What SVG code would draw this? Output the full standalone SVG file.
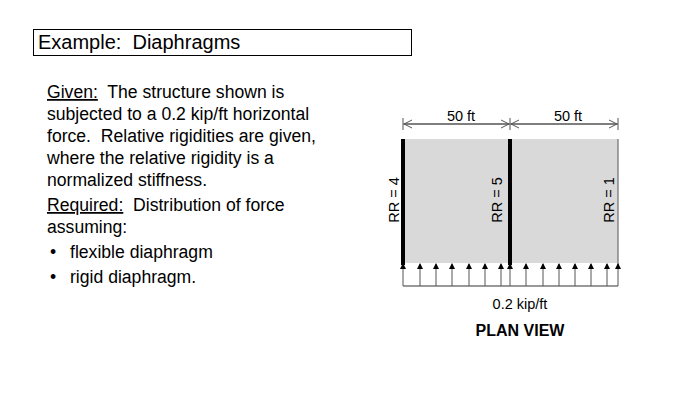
<svg xmlns="http://www.w3.org/2000/svg" width="700" height="412" viewBox="0 0 700 412">
<style>
text{font-family:"Liberation Sans",Arial,sans-serif;fill:#000;white-space:pre}
.b{font-size:17.6px}
.s{font-size:14.5px}
.ar{stroke:#555;stroke-width:1;fill:none}
</style>
<defs>
<marker id="ah" markerWidth="6" markerHeight="6" refX="5" refY="3" orient="auto" markerUnits="userSpaceOnUse"><path d="M0,0 L6,3 L0,6 z" fill="#000"/></marker>
<marker id="dm" markerWidth="10" markerHeight="10" refX="9" refY="5" orient="auto" markerUnits="userSpaceOnUse"><path d="M1,1 L9,5 L1,9" fill="none" stroke="#555"/></marker>
</defs>
<rect width="700" height="412" fill="#fff"/>
<g id="title"><rect x="33.5" y="29.5" width="378" height="26" fill="#fff" stroke="#000"/><text x="38" y="49" style="font-size:20px">Example:  Diaphragms</text></g>
<g id="given" class="b">
<text x="47" y="98"><tspan text-decoration="underline">Given:</tspan>  The structure shown is</text>
<text x="47" y="120">subjected to a 0.2 kip/ft horizontal</text>
<text x="47" y="142">force.  Relative rigidities are given,</text>
<text x="47" y="164">where the relative rigidity is a</text>
<text x="47" y="186">normalized stiffness.</text>
<text x="47" y="211"><tspan text-decoration="underline">Required:</tspan>  Distribution of force</text>
<text x="47" y="233">assuming:</text>
<text x="50" y="258">•</text><text x="70" y="258">flexible diaphragm</text>
<text x="50" y="283">•</text><text x="70" y="283">rigid diaphragm.</text>
</g>
<g id="slab"><rect x="403" y="139" width="215" height="124" fill="#d9d9d9"/></g>
<g id="wall1"><line x1="403" y1="139" x2="403" y2="265" stroke="#000" stroke-width="4"/><text transform="translate(399,200) rotate(-90)" text-anchor="middle" class="s">RR = 4</text></g>
<g id="wall2"><line x1="510" y1="139" x2="510" y2="265" stroke="#000" stroke-width="4"/><text transform="translate(502,200) rotate(-90)" text-anchor="middle" class="s">RR = 5</text></g>
<g id="wall3"><line x1="618" y1="139" x2="618" y2="265" stroke="#555" stroke-width="1"/><text transform="translate(614,200) rotate(-90)" text-anchor="middle" class="s">RR = 1</text></g>
<g id="connectors">
<line x1="403" y1="118" x2="403" y2="130" class="ar"/><line x1="510" y1="118" x2="510" y2="130" class="ar"/><line x1="618" y1="118" x2="618" y2="130" class="ar"/>
<line x1="510" y1="124" x2="404" y2="124" class="ar" marker-end="url(#dm)"/>
<line x1="403" y1="124" x2="509" y2="124" class="ar" marker-end="url(#dm)"/>
<line x1="618" y1="124" x2="511" y2="124" class="ar" marker-end="url(#dm)"/>
<line x1="510" y1="124" x2="617" y2="124" class="ar" marker-end="url(#dm)"/>
<line x1="403" y1="286" x2="618" y2="286" stroke="#777" stroke-width="1.5"/>
<g stroke="#555" stroke-width="1" marker-end="url(#ah)">
<line x1="403" y1="286" x2="403" y2="264"/><line x1="420" y1="286" x2="420" y2="264"/><line x1="436" y1="286" x2="436" y2="264"/><line x1="452" y1="286" x2="452" y2="264"/><line x1="469" y1="286" x2="469" y2="264"/><line x1="485" y1="286" x2="485" y2="264"/><line x1="501" y1="286" x2="501" y2="264"/><line x1="510" y1="286" x2="510" y2="264"/><line x1="526" y1="286" x2="526" y2="264"/><line x1="543" y1="286" x2="543" y2="264"/><line x1="559" y1="286" x2="559" y2="264"/><line x1="575" y1="286" x2="575" y2="264"/><line x1="591" y1="286" x2="591" y2="264"/><line x1="607" y1="286" x2="607" y2="264"/><line x1="618" y1="286" x2="618" y2="264"/>
</g>
</g>
<g id="labels" class="s">
<text x="461" y="121" text-anchor="middle">50 ft</text>
<text x="568" y="121" text-anchor="middle">50 ft</text>
<text x="520" y="309" text-anchor="middle">0.2 kip/ft</text>
<text x="520" y="336" text-anchor="middle" style="font-size:16px;font-weight:bold">PLAN VIEW</text>
</g>
</svg>
